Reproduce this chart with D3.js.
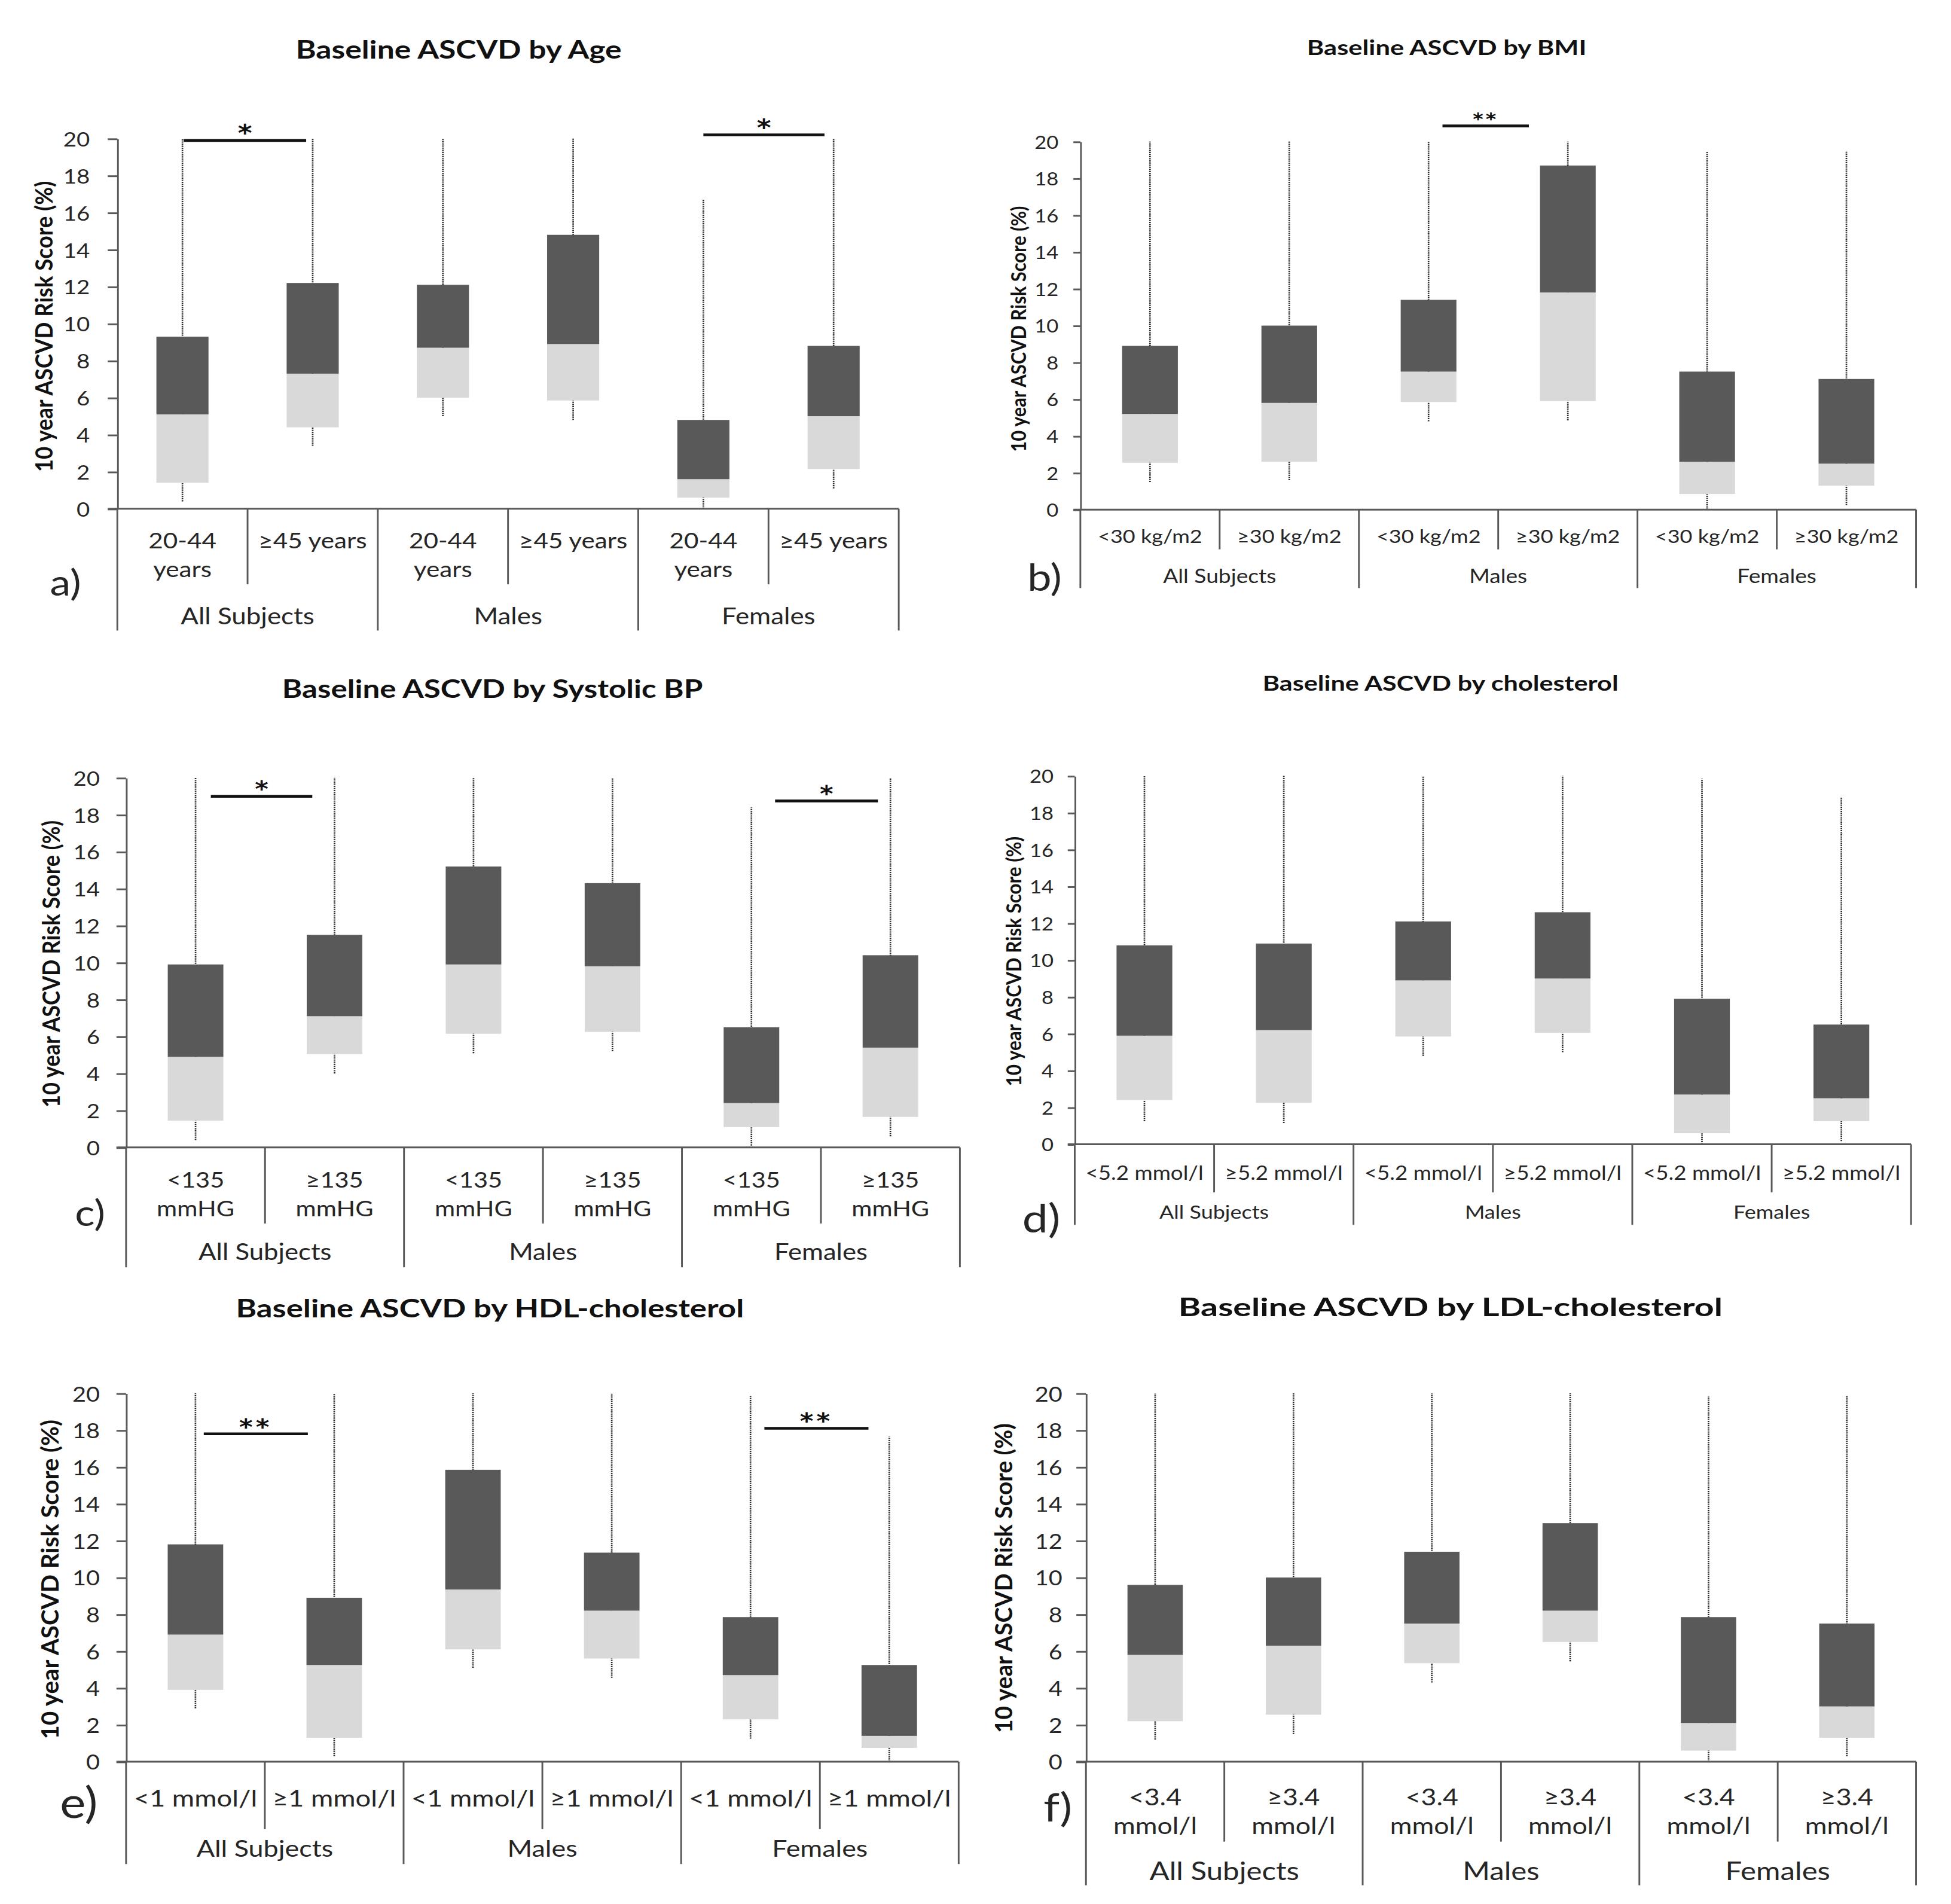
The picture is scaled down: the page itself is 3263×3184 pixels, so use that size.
<!DOCTYPE html>
<html>
<head>
<meta charset="utf-8">
<script src="https://cdn.jsdelivr.net/npm/d3@7"></script>
<style>html,body{margin:0;padding:0;background:#fff;}</style>
</head>
<body>
<script>
// ---------------- DATA ----------------
const groups = ["All Subjects", "Males", "Females"];
const yTicks = [0, 2, 4, 6, 8, 10, 12, 14, 16, 18, 20];

// category labels ("\n" = line break as printed)
const ageCats  = ["20-44\nyears", "≥45 years"];
const bmiCats  = ["<30 kg/m2", "≥30 kg/m2"];
const sbpCats  = ["<135\nmmHG", "≥135\nmmHG"];
const cholCats = ["<5.2 mmol/l", "≥5.2 mmol/l"];
const hdlCats  = ["<1 mmol/l", "≥1 mmol/l"];
const ldlCats  = ["<3.4\nmmol/l", "≥3.4\nmmol/l"];

// order: All-low, All-high, Males-low, Males-high, Females-low, Females-high
const ageMin = [0.4, 3.4, 5.0, 4.8, 0.0, 1.1];
const ageQ1  = [1.4, 4.4, 6.0, 5.85, 0.6, 2.15];
const ageMed = [5.1, 7.3, 8.7, 8.9, 1.6, 5.0];
const ageQ3  = [9.3, 12.2, 12.1, 14.8, 4.8, 8.8];
const ageMax = [20, 20, 20, 20, 16.7, 20];

const bmiMin = [1.5, 1.6, 4.8, 4.85, 0.0, 0.25];
const bmiQ1  = [2.55, 2.6, 5.85, 5.9, 0.85, 1.3];
const bmiMed = [5.2, 5.8, 7.5, 11.8, 2.6, 2.5];
const bmiQ3  = [8.9, 10.0, 11.4, 18.7, 7.5, 7.1];
const bmiMax = [20, 20, 20, 20, 19.45, 19.45];

const sbpMin = [0.4, 4.0, 5.1, 5.2, 0.1, 0.6];
const sbpQ1  = [1.45, 5.05, 6.15, 6.25, 1.1, 1.65];
const sbpMed = [4.9, 7.1, 9.9, 9.8, 2.4, 5.4];
const sbpQ3  = [9.9, 11.5, 15.2, 14.3, 6.5, 10.4];
const sbpMax = [20, 20, 20, 20, 18.4, 20];

const cholMin = [1.25, 1.15, 4.8, 5.0, 0.0, 0.17];
const cholQ1  = [2.4, 2.25, 5.85, 6.05, 0.6, 1.25];
const cholMed = [5.9, 6.2, 8.9, 9.0, 2.7, 2.5];
const cholQ3  = [10.8, 10.9, 12.1, 12.6, 7.9, 6.5];
const cholMax = [20, 20, 20, 20, 19.85, 18.85];

const hdlMin = [2.9, 0.3, 5.1, 4.55, 1.25, 0.0];
const hdlQ1  = [3.9, 1.3, 6.1, 5.6, 2.3, 0.75];
const hdlMed = [6.9, 5.25, 9.35, 8.2, 4.7, 1.4];
const hdlQ3  = [11.8, 8.9, 15.85, 11.35, 7.85, 5.25];
const hdlMax = [20, 20, 20, 20, 19.85, 17.65];

const ldlMin = [1.2, 1.5, 4.3, 5.45, 0.0, 0.3];
const ldlQ1  = [2.2, 2.55, 5.35, 6.5, 0.6, 1.3];
const ldlMed = [5.8, 6.3, 7.5, 8.2, 2.1, 3.0];
const ldlQ3  = [9.6, 10.0, 11.4, 12.95, 7.85, 7.5];
const ldlMax = [20, 20, 20, 20, 19.85, 19.85];

// significance brackets: span in category units (0..6), level in risk %, label
const sigAge  = [{from: 0.51, to: 1.45, y: 19.9, label: "*"},  {from: 4.50, to: 5.43, y: 20.2, label: "*"}];
const sigBmi  = [{from: 2.60, to: 3.22, y: 20.85, label: "**"}];
const sigSbp  = [{from: 0.61, to: 1.34, y: 19.0, label: "*"},  {from: 4.67, to: 5.41, y: 18.75, label: "*"}];
const sigChol = [];
const sigHdl  = [{from: 0.56, to: 1.31, y: 17.8, label: "**"}, {from: 4.60, to: 5.35, y: 18.1, label: "**"}];
const sigLdl  = [];

const yLabel = "10 year ASCVD Risk Score (%)";

// ---------------- STYLE / LAYOUT ----------------
const W = 1563, H = 1525;
const FONT = "Lato, 'Open Sans', 'DejaVu Sans', sans-serif";
const STARFONT = "'DejaVu Sans', sans-serif";
const SX = 1.15;            // horizontal stretch of the printed text
const TEXT = "#262626";
const AXIS = "#595959";
const DARK = "#595959";
const LIGHT = "#d9d9d9";
const WHISK = "#2a2a2a";

const panels = [
  {cats: ageCats, stats: [ageMin, ageQ1, ageMed, ageQ3, ageMax], sig: sigAge,
   title: "Baseline ASCVD by Age", letter: "a)",
   L: {x0: 94, x1: 720, yTop: 111, yBot: 407.5, tickLen: 7.7, tickRight: 72, tickFont: 16,
       catFont: 17.6, sub1: 439, sub2: 462, groupFont: 18.3, groupY: 500, subBottom: 468, groupBottom: 505,
       tX: 367.5, tY: 47, tLen: 261, tSize: 20, yX: 42, yY: 261.5, yLen: 233, ySize: 16.5,
       lX: 40, lY: 477, lSize: 29, starFont: 19}},
  {cats: bmiCats, stats: [bmiMin, bmiQ1, bmiMed, bmiQ3, bmiMax], sig: sigBmi,
   title: "Baseline ASCVD by BMI", letter: "b)",
   L: {x0: 865.5, x1: 1535, yTop: 113.4, yBot: 408.2, tickLen: 5.6, tickRight: 848, tickFont: 14.4,
       catFont: 15, sub1: 435, sub2: 452, groupFont: 15.5, groupY: 467, subBottom: 440, groupBottom: 471,
       tX: 1159, tY: 44, tLen: 224, tSize: 16.5, yX: 822, yY: 263.5, yLen: 197, ySize: 14,
       lX: 823, lY: 473, lSize: 30, starFont: 14}},
  {cats: sbpCats, stats: [sbpMin, sbpQ1, sbpMed, sbpQ3, sbpMax], sig: sigSbp,
   title: "Baseline ASCVD by Systolic BP", letter: "c)",
   L: {x0: 101, x1: 769, yTop: 623, yBot: 919, tickLen: 7.7, tickRight: 80, tickFont: 16,
       catFont: 17.3, sub1: 951, sub2: 974, groupFont: 18.2, groupY: 1009, subBottom: 980, groupBottom: 1015,
       tX: 394.5, tY: 559, tLen: 337, tSize: 20, yX: 48, yY: 772, yLen: 230, ySize: 16.5,
       lX: 60, lY: 982, lSize: 29, starFont: 18}},
  {cats: cholCats, stats: [cholMin, cholQ1, cholMed, cholQ3, cholMax], sig: sigChol,
   title: "Baseline ASCVD by cholesterol", letter: "d)",
   L: {x0: 861, x1: 1531, yTop: 621.5, yBot: 916.5, tickLen: 5.6, tickRight: 844, tickFont: 14.4,
       catFont: 15.3, sub1: 945, sub2: 962, groupFont: 15, groupY: 976, subBottom: 955, groupBottom: 981,
       tX: 1154, tY: 553, tLen: 285, tSize: 16.5, yX: 818, yY: 770, yLen: 200, ySize: 14,
       lX: 819, lY: 987, lSize: 32, starFont: 14}},
  {cats: hdlCats, stats: [hdlMin, hdlQ1, hdlMed, hdlQ3, hdlMax], sig: sigHdl,
   title: "Baseline ASCVD by HDL-cholesterol", letter: "e)",
   L: {x0: 101, x1: 768, yTop: 1116, yBot: 1411, tickLen: 7.7, tickRight: 80, tickFont: 16.5,
       catFont: 18.9, sub1: 1447, sub2: 1470, groupFont: 18.7, groupY: 1487, subBottom: 1465, groupBottom: 1493,
       tX: 392.5, tY: 1055, tLen: 407, tSize: 20.5, yX: 47, yY: 1265, yLen: 256, ySize: 17,
       lX: 48, lY: 1456, lSize: 34, starFont: 18}},
  {cats: ldlCats, stats: [ldlMin, ldlQ1, ldlMed, ldlQ3, ldlMax], sig: sigLdl,
   title: "Baseline ASCVD by LDL-cholesterol", letter: "f)",
   L: {x0: 870, x1: 1535, yTop: 1116, yBot: 1411, tickLen: 7.7, tickRight: 851, tickFont: 16.5,
       catFont: 18.6, sub1: 1446, sub2: 1469, groupFont: 20.5, groupY: 1506, subBottom: 1475, groupBottom: 1510,
       tX: 1162, tY: 1054, tLen: 436, tSize: 20.5, yX: 811, yY: 1264, yLen: 248, ySize: 17,
       lX: 836, lY: 1459, lSize: 32, starFont: 18}}
];

// ---------------- DRAW ----------------
const svg = d3.select("body").append("svg")
  .attr("width", 3263).attr("height", 3184)
  .attr("viewBox", `0 0 ${W} ${H}`)
  .attr("preserveAspectRatio", "none")
  .style("display", "block");

svg.append("rect").attr("width", W).attr("height", H).attr("fill", "#fff");

function sText(g, x, y, str, size, opts = {}) {
  return g.append("text")
    .attr("transform", `translate(${x},${y}) scale(${SX},1)`)
    .attr("font-family", opts.family || FONT)
    .attr("font-size", size)
    .attr("font-weight", opts.weight || "normal")
    .attr("fill", opts.fill || TEXT)
    .attr("text-anchor", opts.anchor || "middle")
    .text(str);
}

panels.forEach(p => {
  const L = p.L;
  const g = svg.append("g");
  const idx = d3.range(6);
  const x = d3.scaleBand().domain(idx).range([L.x0, L.x1]).paddingInner(0).paddingOuter(0);
  const xg = d3.scaleBand().domain(groups).range([L.x0, L.x1]);
  const xu = d3.scaleLinear().domain([0, 6]).range([L.x0, L.x1]);
  const y = d3.scaleLinear().domain([0, 20]).range([L.yBot, L.yTop]);
  const bw = x.bandwidth() * 0.4;
  const [mn, q1, md, q3, mx] = p.stats;

  // title
  g.append("text")
    .attr("x", L.tX).attr("y", L.tY)
    .attr("font-family", FONT).attr("font-weight", "bold")
    .attr("font-size", L.tSize).attr("fill", "#111")
    .attr("text-anchor", "middle")
    .attr("textLength", L.tLen).attr("lengthAdjust", "spacingAndGlyphs")
    .text(p.title);

  // y-axis title (rotated)
  g.append("text")
    .attr("transform", `translate(${L.yX},${L.yY}) scale(${SX},1) rotate(-90)`)
    .attr("font-family", FONT).attr("font-weight", "bold")
    .attr("font-size", L.ySize).attr("fill", "#111")
    .attr("text-anchor", "middle")
    .attr("textLength", L.yLen).attr("lengthAdjust", "spacingAndGlyphs")
    .text(yLabel);

  // whiskers (dotted) behind boxes
  g.append("g").selectAll("line").data(idx).join("line")
    .attr("x1", i => x(i) + x.bandwidth() / 2).attr("x2", i => x(i) + x.bandwidth() / 2)
    .attr("y1", i => y(mn[i])).attr("y2", i => y(mx[i]))
    .attr("stroke", WHISK).attr("stroke-width", 1.3)
    .attr("stroke-dasharray", "1,0.7");

  // lower box (Q1 - median)
  g.append("g").selectAll("rect").data(idx).join("rect")
    .attr("x", i => x(i) + (x.bandwidth() - bw) / 2).attr("width", bw)
    .attr("y", i => y(md[i])).attr("height", i => y(q1[i]) - y(md[i]))
    .attr("fill", LIGHT);

  // upper box (median - Q3)
  g.append("g").selectAll("rect").data(idx).join("rect")
    .attr("x", i => x(i) + (x.bandwidth() - bw) / 2).attr("width", bw)
    .attr("y", i => y(q3[i])).attr("height", i => y(md[i]) - y(q3[i]))
    .attr("fill", DARK);

  // y axis
  const yAxis = d3.axisLeft(y).tickValues(yTicks).tickSize(L.tickLen).tickSizeOuter(0).tickPadding(4);
  const ga = g.append("g").attr("transform", `translate(${L.x0},0)`).call(yAxis);
  ga.select(".domain").attr("stroke", AXIS).attr("stroke-width", 1.4);
  ga.selectAll(".tick line").attr("stroke", AXIS).attr("stroke-width", 1.4);
  ga.selectAll(".tick text")
    .attr("font-family", FONT).attr("font-size", L.tickFont).attr("fill", TEXT)
    .attr("x", -(L.x0 - L.tickRight) / SX)
    .attr("dy", "0.36em")
    .attr("transform", `scale(${SX},1)`);

  // category axis (multi-level)
  g.append("line")
    .attr("x1", L.x0 - L.tickLen).attr("x2", L.x1)
    .attr("y1", L.yBot).attr("y2", L.yBot)
    .attr("stroke", AXIS).attr("stroke-width", 1.4);

  const bounds = d3.range(7);
  g.append("g").selectAll("line").data(bounds).join("line")
    .attr("x1", i => xu(i)).attr("x2", i => xu(i))
    .attr("y1", L.yBot)
    .attr("y2", i => (i % 2 === 0) ? L.groupBottom : L.subBottom)
    .attr("stroke", AXIS).attr("stroke-width", 1.4);

  // sub-category labels
  idx.forEach(i => {
    const lines = p.cats[i % 2].split("\n");
    const cx = x(i) + x.bandwidth() / 2;
    lines.forEach((ln, k) => {
      sText(g, cx, k === 0 ? L.sub1 : L.sub2, ln, L.catFont);
    });
  });

  // group labels
  groups.forEach(gr => {
    sText(g, xg(gr) + xg.bandwidth() / 2, L.groupY, gr, L.groupFont);
  });

  // panel letter
  sText(g, L.lX, L.lY, p.letter, L.lSize, {anchor: "start"});

  // significance brackets
  p.sig.forEach(s => {
    g.append("line")
      .attr("x1", xu(s.from)).attr("x2", xu(s.to))
      .attr("y1", y(s.y)).attr("y2", y(s.y))
      .attr("stroke", "#111").attr("stroke-width", 2.2);
    sText(g, (xu(s.from) + xu(s.to)) / 2, y(s.y) - 5 + L.starFont * 0.3, s.label, L.starFont,
      {fill: "#111", weight: "bold", family: STARFONT})
      .attr("letter-spacing", s.label.length > 1 ? L.starFont * 0.12 : 0);
  });
});
</script>
</body>
</html>
